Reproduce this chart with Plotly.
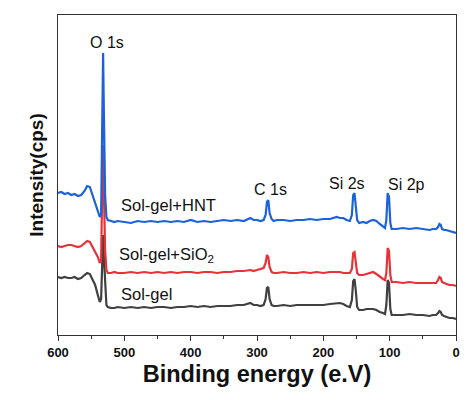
import plotly.graph_objects as go

energy = [600,595,590,585,580,575,570,565,560,556,552,548,544,540,537,535,533,532,531,529,527,525,
          520,515,510,500,490,480,470,460,450,440,430,420,410,400,390,380,370,360,350,340,330,320,
          310,305,300,295,290,287,285,283,281,278,275,270,260,250,240,230,220,210,200,190,180,175,
          170,165,160,157,155,153,151,149,146,140,135,130,125,120,115,110,107,105,103,101,99,97,95,
          90,80,70,60,50,40,35,30,27,25,23,21,18,15,10,5,0]

hnt = [142,143,141,142,140,141,139,140,144,149,148,140,134,125,118,120,200,282,230,140,118,115,
       114,113,114,113,112,114,113,114,113,114,113,114,113,115,113,114,113,114,115,114,115,114,
       117,115,115,114,115,120,133,135,122,116,114,115,115,114,115,115,116,115,116,116,118,117,
       117,115,114,120,140,142,130,115,112,113,112,114,115,114,111,108,107,115,142,138,112,106,106,
       106,107,106,107,106,105,106,106,108,111,110,106,105,105,104,103,102]

sio2 = [89,88,89,90,90,89,88,89,92,94,93,88,84,78,72,75,160,190,150,85,65,62,
        62,63,62,62,63,62,63,62,63,62,63,62,63,63,62,63,63,62,63,63,64,64,
        65,64,65,66,67,72,80,78,68,63,62,62,63,62,62,63,62,63,62,63,63,63,
        62,62,62,66,82,83,72,62,60,60,61,62,63,61,58,56,55,62,87,84,60,53,53,
        53,52,53,52,52,52,52,52,55,58,57,53,52,51,50,50,49]

solgel = [58,57,58,57,57,58,56,57,60,62,61,55,50,40,33,36,80,100,80,45,30,28,
          27,27,28,27,28,27,28,27,28,28,27,28,28,29,28,29,28,29,29,29,30,30,
          32,30,30,29,30,36,47,48,36,30,29,29,30,29,30,30,30,30,30,31,32,32,
          31,29,28,35,54,56,44,28,25,25,26,26,26,25,23,22,21,30,55,52,26,20,20,
          20,20,21,20,20,19,20,20,22,24,23,20,19,18,17,17,16]

assert len(energy) == len(hnt) == len(sio2) == len(solgel)

series_names = ["Sol-gel", "Sol-gel+SiO₂", "Sol-gel+HNT"]
series_colors = ["#404040", "#e8323a", "#1c62d8"]

peak_labels = ["O 1s", "C 1s", "Si 2s", "Si 2p"]
peak_x = [526, 280, 164, 74]
peak_y = [293, 146, 152, 151]

sample_labels = ["Sol-gel+HNT", "Sol-gel+SiO<sub>2</sub>", "Sol-gel"]
sample_x = [433, 436, 466]
sample_y = [130, 80, 41]

fig = go.Figure()
for name, ys, col in zip(series_names, [solgel, sio2, hnt], series_colors):
    fig.add_trace(go.Scatter(x=energy, y=ys, mode="lines", name=name,
                             line=dict(color=col, width=2.2)))

font_family = "Arial, Liberation Sans, sans-serif"
for t, xv, yv in zip(peak_labels, peak_x, peak_y):
    fig.add_annotation(x=xv, y=yv, text=t, showarrow=False,
                       font=dict(family=font_family, size=16, color="#111"))
for t, xv, yv in zip(sample_labels, sample_x, sample_y):
    fig.add_annotation(x=xv, y=yv, text=t, showarrow=False,
                       font=dict(family=font_family, size=16.5, color="#111"))

fig.update_layout(
    width=474, height=400,
    margin=dict(l=58, r=18, t=15, b=65),
    paper_bgcolor="white", plot_bgcolor="white",
    showlegend=False,
    font=dict(family=font_family, color="#111"),
)
fig.update_xaxes(
    range=[600, 0], tickvals=[600, 500, 400, 300, 200, 100, 0],
    ticks="outside", ticklen=5, tickwidth=1, tickcolor="#333",
    minor=dict(ticks="outside", dtick=50, ticklen=3, tickcolor="#333"),
    showline=True, mirror=True, linecolor="#333", linewidth=1,
    showgrid=False, zeroline=False,
    tickfont=dict(family=font_family, size=13, color="#111", weight="bold"),
    title=dict(text="<b>Binding energy (e.V)</b>", standoff=6,
               font=dict(family=font_family, size=23.5, color="#111")),
)
fig.update_yaxes(
    range=[0, 320], showticklabels=False, ticks="",
    showline=True, mirror=True, linecolor="#333", linewidth=1,
    showgrid=False, zeroline=False,
    title=dict(text="<b>Intensity(cps)</b>", standoff=8,
               font=dict(family=font_family, size=19, color="#111")),
)

fig.write_html("out.html")
